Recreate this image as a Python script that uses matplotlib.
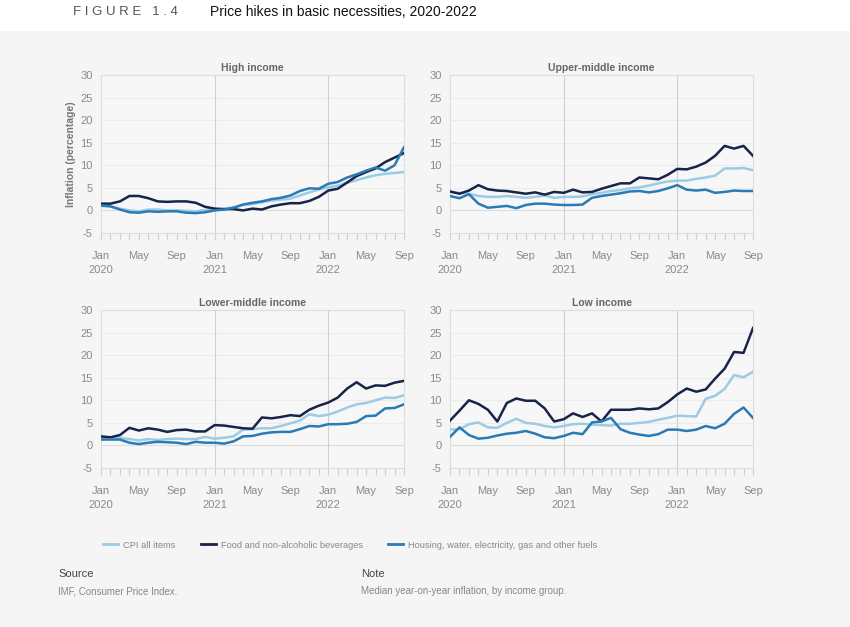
import numpy as np
import matplotlib.pyplot as plt
from matplotlib.lines import Line2D

plt.rcParams['font.family'] = ['Liberation Sans', 'DejaVu Sans']
plt.rcParams['axes.unicode_minus'] = False

months = np.arange(33)  # Jan 2020 .. Sep 2022

# High income
hi_cpi = [1.0, 0.9, 0.4, 0.0, -0.2, 0.2, 0.2, 0.0, 0.0, -0.1, -0.2, 0.1,
          0.2, 0.3, 0.7, 1.2, 1.4, 1.8, 2.2, 2.4, 2.6, 3.3, 4.0, 4.6,
          5.1, 5.5, 6.1, 6.7, 7.3, 7.8, 8.1, 8.3, 8.5]
hi_food = [1.5, 1.5, 2.0, 3.2, 3.2, 2.7, 2.0, 1.9, 2.0, 2.0, 1.7, 0.8,
           0.4, 0.3, 0.3, 0.0, 0.4, 0.2, 0.9, 1.3, 1.6, 1.6, 2.1, 3.0,
           4.4, 4.8, 6.2, 7.6, 8.5, 9.3, 10.7, 11.7, 12.7]
hi_house = [1.1, 0.9, 0.2, -0.4, -0.5, -0.2, -0.3, -0.2, -0.2, -0.5, -0.6, -0.4,
            0.0, 0.2, 0.6, 1.3, 1.7, 2.0, 2.5, 2.8, 3.3, 4.3, 4.9, 4.8,
            5.9, 6.3, 7.3, 8.0, 8.8, 9.5, 8.8, 10.0, 14.0]

# Upper-middle income
um_cpi = [4.1, 3.9, 3.7, 3.2, 3.0, 3.0, 3.2, 3.0, 2.8, 3.0, 3.3, 2.8,
          3.0, 3.0, 3.1, 3.6, 3.9, 4.3, 4.5, 4.9, 5.1, 5.5, 6.0, 6.4,
          6.6, 6.6, 7.0, 7.3, 7.7, 9.3, 9.3, 9.4, 8.9]
um_food = [4.2, 3.7, 4.4, 5.6, 4.7, 4.4, 4.3, 4.0, 3.7, 4.0, 3.5, 4.1,
           3.9, 4.6, 4.0, 4.1, 4.8, 5.4, 6.0, 6.0, 7.3, 7.1, 6.9, 7.9,
           9.2, 9.1, 9.7, 10.6, 12.1, 14.3, 13.7, 14.3, 12.1]
um_house = [3.2, 2.7, 3.6, 1.5, 0.6, 0.8, 1.0, 0.5, 1.2, 1.5, 1.5, 1.3,
            1.2, 1.2, 1.3, 2.8, 3.2, 3.5, 3.8, 4.2, 4.3, 4.0, 4.3, 4.9,
            5.6, 4.6, 4.4, 4.6, 3.9, 4.1, 4.4, 4.3, 4.3]

# Lower-middle income
lm_cpi = [1.6, 1.5, 1.7, 1.4, 1.1, 1.4, 1.2, 1.4, 1.5, 1.4, 1.4, 1.9,
          1.5, 1.7, 2.0, 3.5, 3.6, 3.8, 3.8, 4.3, 4.9, 5.5, 6.9, 6.5,
          6.8, 7.5, 8.4, 9.1, 9.4, 10.0, 10.6, 10.5, 11.1]
lm_food = [2.0, 1.8, 2.3, 3.9, 3.3, 3.8, 3.5, 3.0, 3.4, 3.5, 3.1, 3.1,
           4.5, 4.4, 4.1, 3.8, 3.7, 6.2, 6.0, 6.3, 6.7, 6.5, 7.9, 8.8,
           9.5, 10.6, 12.6, 14.0, 12.6, 13.3, 13.2, 13.9, 14.3]
lm_house = [1.3, 1.3, 1.3, 0.6, 0.3, 0.6, 0.8, 0.7, 0.6, 0.3, 0.8, 0.6,
            0.6, 0.4, 0.9, 2.0, 2.1, 2.6, 2.9, 3.0, 3.0, 3.6, 4.3, 4.2,
            4.7, 4.7, 4.8, 5.2, 6.5, 6.6, 8.2, 8.3, 9.1]

# Low income
lo_cpi = [3.5, 3.6, 4.7, 5.1, 4.0, 3.9, 5.0, 5.9, 5.0, 4.8, 4.3, 4.0,
          4.3, 4.7, 4.8, 4.6, 4.5, 4.4, 4.8, 4.8, 5.0, 5.2, 5.7, 6.1,
          6.6, 6.5, 6.4, 10.3, 11.0, 12.5, 15.6, 15.1, 16.3]
lo_food = [5.5, 7.7, 10.0, 9.2, 7.9, 5.3, 9.4, 10.4, 9.9, 9.9, 8.2, 5.3,
           5.8, 7.1, 6.3, 7.1, 5.3, 7.9, 7.9, 7.9, 8.2, 8.0, 8.2, 9.6,
           11.3, 12.6, 11.9, 12.4, 14.8, 17.0, 20.7, 20.5, 26.0]
lo_house = [1.9, 4.0, 2.3, 1.5, 1.7, 2.2, 2.6, 2.8, 3.2, 2.6, 1.8, 1.6,
            2.1, 2.8, 2.5, 5.1, 5.3, 6.1, 3.6, 2.8, 2.4, 2.1, 2.5, 3.5,
            3.5, 3.2, 3.5, 4.3, 3.8, 4.8, 7.0, 8.4, 6.1]

panels = [
    ("High income", hi_cpi, hi_food, hi_house),
    ("Upper-middle income", um_cpi, um_food, um_house),
    ("Lower-middle income", lm_cpi, lm_food, lm_house),
    ("Low income", lo_cpi, lo_food, lo_house),
]

tick_pos = [0, 4, 8, 12, 16, 20, 24, 28, 32]
tick_lab = ["Jan\n2020", "May", "Sep", "Jan\n2021", "May", "Sep",
            "Jan\n2022", "May", "Sep"]

c_cpi = '#9ccbe6'
c_food = '#172448'
c_house = '#2a7ab5'
bg = '#f5f5f5'
txt = '#8a8a8a'

W, H = 850, 627
fig = plt.figure(figsize=(8.5, 6.27), dpi=100, facecolor=bg)

# white header band
fig.patches.append(plt.Rectangle((0, 1 - 31 / H), 1, 31 / H, transform=fig.transFigure,
                                 facecolor='white', edgecolor='none', zorder=0))
fig.text(73 / W, 1 - 12 / H, "F I G U R E   1 . 4", fontsize=9.5, color='#555555',
         va='center', ha='left')
fig.text(210 / W, 1 - 12 / H, "Price hikes in basic necessities, 2020-2022",
         fontsize=10, color='#111111', va='center', ha='left')

boxes = [(101, 75), (450, 75), (101, 310), (450, 310)]
for (title, cpi, food, house), (x0, y0) in zip(panels, boxes):
    ax = fig.add_axes([x0 / W, 1 - (y0 + 158) / H, 303 / W, 158 / H])
    ax.set_facecolor('#f7f7f7')
    for v in range(-5, 31, 5):
        ax.axhline(v, color='#dddddd' if v == 0 else '#ececec', lw=0.8, zorder=1)
    for v in [12, 24]:
        ax.axvline(v, color='#d0d0d0', lw=0.8, zorder=1)
    ax.plot(months, cpi, color=c_cpi, lw=1.8, zorder=3)
    ax.plot(months, food, color=c_food, lw=1.8, zorder=4)
    ax.plot(months, house, color=c_house, lw=1.8, zorder=5)
    ax.set_xlim(0, 32)
    ax.set_ylim(-5, 30)
    ax.set_yticks(range(-5, 31, 5))
    ax.set_xticks(tick_pos)
    ax.set_xticklabels(tick_lab, linespacing=1.5)
    ax.set_xticks(months, minor=True)
    ax.tick_params(axis='y', length=0, pad=6, labelsize=8, labelcolor=txt)
    ax.tick_params(axis='x', which='both', length=5, color='#d0d0d0', width=0.8,
                   pad=8, labelsize=8, labelcolor=txt)
    for s in ax.spines.values():
        s.set_color('#dddddd')
        s.set_linewidth(0.8)
    ax.set_title(title, fontsize=7.5, fontweight='bold', color='#666666', pad=3)
    if title == "High income":
        ax.set_ylabel("Inflation (percentage)", fontsize=7.5, fontweight='bold',
                      color='#777777', labelpad=3)

handles = [Line2D([], [], color=c_cpi, lw=2),
           Line2D([], [], color=c_food, lw=2),
           Line2D([], [], color=c_house, lw=2)]
labels = ["CPI all items", "Food and non-alcoholic beverages",
          "Housing, water, electricity, gas and other fuels"]
leg = fig.legend(handles, labels, loc='center left', bbox_to_anchor=(95 / W, 1 - 545 / H),
                 ncol=3, frameon=False, fontsize=6.7,
                 handlelength=1.6, handletextpad=0.55, columnspacing=2.7)
for t in leg.get_texts():
    t.set_color('#888888')

fig.text(58 / W, 1 - 574 / H, "Source", fontsize=8, color='#444444', va='center')
fig.text(58 / W, 1 - 591 / H, "IMF, Consumer Price Index.", fontsize=7,
         color='#888888', va='center')
fig.text(361 / W, 1 - 574 / H, "Note", fontsize=8, color='#444444', va='center')
fig.text(361 / W, 1 - 591 / H, "Median year-on-year inflation, by income group.",
         fontsize=7, color='#888888', va='center')

fig.savefig("out.png", dpi=100, facecolor=bg)
